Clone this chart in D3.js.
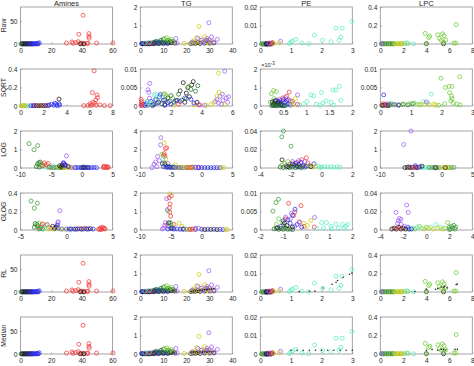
<!DOCTYPE html>
<meta charset="utf-8">
<style>
  body { margin: 0; background: #fff; }
  text { font-family: "Liberation Sans", Arial, sans-serif; fill: #262626; }
</style>
<body>
<div id="chart"></div>
<script src="https://d3js.org/d3.v7.min.js"></script>
<script>
// panel labels
const rowNames = ["Raw", "SQRT", "LOG", "GLOG", "RL", "Median"];
const colNames = ["Amines", "TG", "PE", "LPC"];

// axis ticks and limits per row (one entry per column)
const rawXTicks = [[0, 20, 40, 60], [0, 10, 20, 30, 40], [0, 1, 2, 3], [0, 2, 4, 6, 8]];
const rawYTicks = [[0, 50], [0, 1, 2], [0, 0.01, 0.02], [0, 0.2, 0.4]];
const rawYMax = [80, 2, 0.02, 0.4];
const sqrtXTicks = [[0, 2, 4, 6, 8], [0, 2, 4, 6], [0, 0.5, 1, 1.5, 2], [0, 1, 2, 3]];
const sqrtYTicks = [[0, 0.2, 0.4], [0, 0.005, 0.01], [0, 1, 2], [0, 0.005, 0.01]];
const sqrtYMax = [0.4, 0.01, 2, 0.01];
const logXTicks = [[-10, -5, 0, 5], [-10, -5, 0, 5], [-4, -2, 0, 2], [-10, -5, 0, 5]];
const logYTicks = [[0, 1, 2], [0, 2, 4], [0, 0.02, 0.04], [0, 1, 2]];
const logYMax = [2, 4, 0.04, 2];
const glogXTicks = [[-5, 0, 5], [-10, -5, 0, 5], [-2, -1, 0, 1, 2], [-4, -2, 0, 2, 4]];
const glogYTicks = [[0, 0.2, 0.4], [0, 1, 2], [0, 0.005, 0.01], [0, 0.02, 0.04]];
const glogYMax = [0.4, 2, 0.01, 0.04];

// points: [x, y, class]
const rawAmines = [[0.3,0.3,"g"],[0.8,0.3,"g"],[1.4,0.3,"g"],
  [1,0.3,"k"],[2,0.3,"k"],[2.6,0.3,"k"],[3.2,0.3,"k"],[3.8,0.3,"k"],[4.4,0.3,"k"],[5,0.3,"k"],[5.6,0.3,"k"],[6.2,0.3,"k"],[7,0.3,"k"],[7.8,0.3,"k"],
  [4.2,0.5,"b"],[6.6,0.5,"b"],[7.4,0.3,"b"],[8.4,0.3,"b"],[9,0.6,"b"],[9.6,0.3,"b"],[10.2,0.6,"b"],[10.8,0.5,"b"],[11.2,1,"b"],[11.6,0.5,"b"],[12.2,2.6,"b"],
  [40.8,62,"r"],[38,21,"r"],[44.6,22.5,"r"],[44.6,16.5,"r"],[44.8,12.5,"r"],[30,2,"r"],[33.6,4.5,"r"],[34.2,1.5,"r"],[36,3,"r"],[37.6,5,"r"],[38.6,1,"r"],[40,2,"r"],[41.6,1,"r"],[43.2,1.2,"r"],[44,1.5,"r"],[49.6,2,"r"],[60.3,2.2,"r"],
  [39.3,0.3,"k"],[41.2,0.3,"k"]];
const rawTG = [[0.5,0.02,"b"],[1,0.02,"b"],[1.5,0.02,"b"],[2,0.03,"b"],[2.5,0.02,"b"],[3,0.03,"b"],[3.5,0.02,"b"],[4,0.04,"b"],[4.5,0.03,"b"],[5,0.05,"b"],[5.5,0.03,"b"],[6,0.06,"b"],[6.5,0.04,"b"],[7,0.08,"b"],[7.5,0.05,"b"],[8,0.1,"b"],[9,0.06,"b"],[10,0.08,"b"],[11,0.05,"b"],[12,0.04,"b"],
  [1,0.01,"k"],[2,0.01,"k"],[3,0.01,"k"],[4,0.01,"k"],[5,0.02,"k"],[6,0.02,"k"],[8,0.02,"k"],[10,0.03,"k"],[12,0.05,"k"],[13,0.1,"k"],[13.5,0.07,"k"],[14,0.12,"k"],[15,0.05,"k"],[22,0.02,"k"],[23,0.05,"k"],[24,0.04,"k"],[25,0.08,"k"],[26,0.03,"k"],[28,0.05,"k"],[30,0.08,"k"],[32,0.06,"k"],[29,0.18,"k"],
  [6,0.1,"d"],[7,0.15,"d"],[8,0.05,"d"],[9,0.2,"d"],[9.5,0.12,"d"],[10,0.25,"d"],[11,0.1,"d"],[12,0.2,"d"],[13,0.15,"d"],
  [10.5,0.3,"l"],[11.5,0.33,"l"],[12.5,0.2,"l"],[13.5,0.25,"l"],[14,0.12,"l"],
  [19,0.03,"y"],[22,0.05,"y"],[23,0.15,"y"],[24.5,0.35,"y"],[25.5,0.95,"y"],[26,0.1,"y"],[27,0.25,"y"],[28,0.4,"y"],[29,0.12,"y"],[30,0.02,"y"],[31,0.15,"y"],[24,0.1,"y"],
  [15.5,0.3,"m"],[16,0.05,"m"],[22.5,0.1,"m"],[25,0.3,"m"],[26.5,0.2,"m"],[27,0.08,"m"],[28,0.15,"m"],[29,0.3,"m"],[29.8,1.15,"m"],[30,0.22,"m"],[31,0.38,"m"],[32,0.1,"m"],[33.5,0.25,"m"],[30.5,0.05,"m"],
  [3,0.05,"r"],[5,0.04,"r"],[2,0.05,"c"],[4,0.08,"c"]];
const rawPE = [[0.04,0,"d"],[0.08,0,"d"],[0.12,0,"d"],[0.16,0,"d"],[0.2,0,"d"],[0.24,0.0001,"d"],[0.28,0,"d"],
  [0.06,0.0001,"l"],[0.14,0.0002,"l"],
  [0.18,0.0001,"b"],[0.22,0,"b"],[0.26,0.0002,"b"],[0.3,0.0001,"b"],[0.34,0,"b"],[0.38,0.0002,"b"],
  [0.2,0,"k"],[0.26,0.0001,"k"],[0.32,0.0001,"k"],[0.36,0.0003,"k"],
  [0.28,0.0004,"r"],[0.4,0.0008,"r"],[0.36,0.0002,"r"],
  [0.3,0.0005,"m"],[0.66,0.0015,"m"],[0.44,0.0003,"y"],[0.62,0.0006,"y"],
  [2.99,0.0122,"c"],[2.47,0.0085,"c"],[2.67,0.0085,"c"],[2.63,0.0037,"c"],[2.57,0.002,"c"],[1.77,0.0048,"c"],[2.03,0.002,"c"],[2.3,0.0012,"c"],[1.16,0.0025,"c"],[1.0,0.001,"c"],[1.05,0.0016,"c"],[1.36,0.0005,"c"],[1.58,0.0002,"c"],[0.95,0.0002,"c"]];
const rawLPC = [[0.1,0.002,"d"],[0.25,0.002,"d"],[0.4,0.002,"d"],[0.55,0.002,"d"],[0.7,0.002,"d"],[0.85,0.002,"d"],[1.0,0.002,"d"],[1.15,0.002,"d"],
  [0.3,0.003,"l"],[0.6,0.003,"l"],[0.9,0.003,"l"],[1.2,0.003,"l"],[1.5,0.004,"l"],[1.8,0.003,"l"],[2.1,0.004,"l"],[2.4,0.006,"l"],
  [1.3,0.002,"y"],[1.45,0.002,"y"],[1.6,0.002,"y"],[1.75,0.002,"y"],[1.9,0.002,"y"],
  [2.3,0.012,"c"],[2.9,0.002,"c"],[4.0,0.003,"k"],[5.5,0.003,"k"],[0.15,0.002,"m"],
  [3.9,0.115,"l"],[4.3,0.085,"l"],[4.2,0.07,"l"],[5.0,0.1,"l"],[5.4,0.11,"l"],[5.55,0.09,"l"],[5.15,0.06,"l"],[5.3,0.04,"l"],[5.7,0.045,"l"],[5.5,0.02,"l"],[4,0.007,"l"],[6.4,0.01,"l"],[6.55,0.01,"l"],[6.6,0.21,"l"]];

const sqrtAmines = [[0.1,0.002,"l"],[0.3,0.004,"l"],[0.5,0.002,"l"],[0.05,0.001,"y"],[0.2,0.001,"y"],[0.4,0.002,"y"],[0.7,0.002,"c"],
  [1.2,0.003,"k"],[1.4,0.004,"k"],[1.6,0.003,"k"],[1.8,0.005,"k"],[2.0,0.004,"k"],[2.2,0.004,"k"],[2.4,0.006,"k"],[3.35,0.075,"k"],
  [1.3,0.006,"r"],[1.9,0.005,"r"],
  [0.9,0.003,"b"],[1.1,0.004,"b"],[2.5,0.01,"b"],[2.7,0.02,"b"],[2.9,0.008,"b"],[3.0,0.03,"b"],[3.1,0.015,"b"],[3.2,0.005,"b"],[3.35,0.025,"b"],[3.4,0.01,"b"],[2.3,0.01,"m"],
  [6.4,0.38,"r"],[6.25,0.145,"r"],[6.65,0.12,"r"],[6.7,0.09,"r"],[6.55,0.065,"r"],[6.45,0.03,"r"],[6.05,0.025,"r"],[6.25,0.012,"r"],[5.5,0.004,"r"],[5.85,0.005,"r"],[6.6,0.008,"r"],[6.9,0.012,"r"],[7.3,0.004,"r"],[7.8,0.003,"r"],[6.3,0.04,"r"],[6.1,0.006,"r"]];
const sqrtTG = [[0.62,0.0061,"m"],[0.5,0.0044,"m"],[0.56,0.0037,"m"],[0.6,0.0021,"m"],[0.45,0.0012,"m"],[5.5,0.0094,"m"],[5.35,0.0032,"m"],[5.2,0.0026,"m"],[5.0,0.0018,"m"],[5.6,0.0022,"m"],[4.9,0.0012,"m"],[5.4,0.0015,"m"],[5.7,0.001,"m"],[5.1,0.0008,"m"],[3.9,0.0003,"m"],[4.2,0.0002,"m"],[5.75,0.0025,"m"],[5.3,0.0005,"m"],[0.1,0.0002,"m"],
  [5.1,0.0089,"y"],[5.15,0.0037,"y"],[4.8,0.001,"y"],[4.6,0.0004,"y"],[4.3,0.0002,"y"],[5.0,0.0027,"y"],[5.5,0.0004,"y"],[2.2,0.0002,"y"],[3.5,0.0003,"y"],
  [2.8,0.0063,"k"],[3.45,0.0066,"k"],[3.35,0.0057,"k"],[3.1,0.005,"k"],[2.6,0.0041,"k"],[3.0,0.0035,"k"],[3.2,0.0025,"k"],[2.4,0.0015,"k"],[1.8,0.0022,"k"],[1.2,0.001,"k"],[0.9,0.0005,"k"],[3.7,0.001,"k"],[1.6,0.0004,"k"],[2.9,0.001,"k"],
  [3.75,0.0055,"d"],[3.6,0.004,"d"],[3.3,0.0045,"d"],[2.5,0.0032,"d"],[2.0,0.0028,"d"],[1.6,0.0017,"d"],[1.9,0.0012,"d"],[2.2,0.001,"d"],[1.4,0.0006,"d"],[0.8,0.0004,"d"],[0.5,0.0002,"d"],[3.0,0.002,"d"],[2.7,0.0016,"d"],
  [1.6,0.0033,"l"],[1.7,0.0028,"l"],[1.5,0.0032,"l"],[2.1,0.0022,"l"],[3.15,0.0053,"l"],[1.0,0.0015,"l"],
  [1.3,0.0031,"b"],[1.25,0.0025,"b"],[1.0,0.0018,"b"],[0.7,0.0012,"b"],[0.4,0.0006,"b"],[1.5,0.0016,"b"],[1.8,0.0009,"b"],[2.3,0.0015,"b"],[2.6,0.0012,"b"],[2.9,0.0022,"b"],[3.3,0.0018,"b"],[3.5,0.0008,"b"],[0.2,0.0004,"b"],[1.1,0.0008,"b"],[2.0,0.0005,"b"],[0.3,0.0001,"b"],[0.8,0.0001,"b"],[1.6,0.0002,"b"],
  [1.0,0.0032,"c"],[0.9,0.003,"c"],[0.3,0.0009,"c"],[0.5,0.0013,"c"],[1.2,0.0022,"c"],[0.7,0.0007,"c"],
  [0.05,0.0018,"r"],[0.08,0.0012,"r"],[0.06,0.0006,"r"],[0.1,0.0003,"r"],[0.04,0.0001,"r"],[2.5,0.0005,"r"],[3.8,0.0003,"r"]];
// PE SQRT values are in units of 1e-3
const sqrtPE = [[1.72,1.06,"c"],[1.58,0.87,"c"],[1.64,0.86,"c"],[1.33,0.73,"c"],[1.16,0.55,"c"],[1.1,0.6,"c"],[1.43,0.28,"c"],[1.54,0.2,"c"],[1.36,0.16,"c"],[1.01,0.25,"c"],[1.22,0.1,"c"],[0.94,0.12,"c"],[1.6,0.05,"c"],[1.3,0.03,"c"],[1.75,0.3,"c"],[0.85,0.05,"c"],
  [0.29,0.84,"l"],[0.35,0.78,"l"],[0.24,0.67,"l"],[0.3,0.4,"l"],[0.22,0.2,"l"],
  [0.63,0.75,"r"],[0.57,0.53,"r"],[0.49,0.44,"r"],[0.62,0.34,"r"],[0.81,0.09,"r"],[0.4,0.15,"r"],[0.7,0.25,"r"],[0.45,0.3,"r"],
  [0.81,0.6,"m"],[0.55,0.45,"m"],[0.5,0.2,"m"],[0.66,0.28,"m"],[0.42,0.36,"m"],[0.72,0.12,"m"],
  [0.35,0.3,"b"],[0.4,0.25,"b"],[0.45,0.12,"b"],[0.5,0.35,"b"],[0.55,0.2,"b"],[0.6,0.1,"b"],[0.65,0.05,"b"],[0.48,0.05,"b"],[0.38,0.08,"b"],[0.52,0.02,"b"],[0.58,0.3,"b"],[0.42,0.18,"b"],
  [0.26,0.22,"k"],[0.3,0.15,"k"],[0.34,0.05,"k"],[0.38,0.18,"k"],[0.28,0.05,"k"],[0.44,0.08,"k"],[0.32,0.28,"k"],
  [0.25,0.02,"d"],[0.3,0.02,"d"],[0.35,0.01,"d"],[0.4,0.03,"d"],[0.45,0.02,"d"],[0.5,0.01,"d"],[0.55,0.03,"d"],[0.28,0.1,"d"],[0.36,0.12,"d"],
  [0.76,0.4,"y"],[0.68,0.18,"y"],[0.7,0.05,"y"]];
const sqrtLPC = [[1.98,0.0075,"l"],[2.59,0.0079,"l"],[2.12,0.005,"l"],[2.24,0.0053,"l"],[2.34,0.0053,"l"],[2.26,0.0036,"l"],[2.32,0.0027,"l"],[2.34,0.002,"l"],[2.3,0.0014,"l"],[2.38,0.0008,"l"],[2.1,0.0006,"l"],[2.5,0.0005,"l"],[2.6,0.0003,"l"],
  [0.11,0.003,"b"],[0.3,0.0005,"b"],[0.6,0.0003,"b"],
  [1.66,0.0032,"c"],[1.4,0.0012,"c"],[1.55,0.0008,"c"],[1.2,0.0005,"c"],[0.35,0.0008,"c"],
  [0.05,0.0002,"k"],[0.1,0.0001,"k"],[0.15,0.0004,"k"],[0.2,0.0002,"k"],[0.25,0.0001,"k"],[0.08,0.0006,"r"],[0.18,0.0003,"r"],
  [0.3,0.0002,"d"],[0.45,0.0004,"d"],[0.6,0.0002,"d"],[0.75,0.0005,"d"],[0.9,0.0003,"d"],[1.05,0.0006,"d"],
  [0.4,0.0003,"l"],[0.7,0.0004,"l"],[0.95,0.0006,"l"],[1.1,0.0008,"l"],[1.3,0.0003,"l"],[1.9,0.0002,"l"],
  [1.25,0.0004,"y"],[1.45,0.0006,"y"],[1.6,0.0003,"y"],[1.75,0.0005,"y"],[1.8,0.0002,"y"],
  [0.22,0.0006,"m"],[0.5,0.0003,"m"],[1.5,0.0011,"m"]];

const logAmines = [[-8.6,1.32,"g"],[-7.8,0.99,"g"],[-7.2,1.21,"g"],
  [-7,0.28,"d"],[-7.2,0.22,"d"],[-6.8,0.32,"d"],[-6.6,0.15,"d"],[-7.4,0.08,"d"],[-6.9,0.05,"d"],
  [-6.5,0.22,"l"],[-6.2,0.12,"l"],[-7.1,0.15,"l"],
  [-6.3,0.1,"c"],[-5.8,0.05,"c"],[-5.2,0.08,"c"],[-4.8,0.12,"c"],[-4.5,0.05,"c"],[-5.5,0.02,"c"],
  [-6.1,0.28,"r"],[-5.8,0.18,"r"],[-5.5,0.25,"r"],[-6.4,0.12,"r"],[-5.3,0.05,"r"],
  [-5,0.02,"g"],[-4.6,0.02,"g"],[-4.2,0.03,"g"],[-3.8,0.02,"g"],[-3.4,0.02,"g"],[-3,0.02,"g"],
  [-3.8,0.05,"y"],[-3.3,0.04,"y"],[-2.8,0.03,"y"],[-2.4,0.02,"y"],[-2,0.03,"y"],[-1.6,0.02,"y"],
  [-2.5,0.66,"m"],[-3,0.3,"m"],[-2.9,0.22,"m"],[-2.6,0.1,"m"],[-1.8,0.03,"m"],[-1.2,0.02,"m"],
  [-3.6,0.12,"k"],[-3.2,0.15,"k"],[-2.8,0.16,"k"],[-2.2,0.08,"k"],[-3.4,0.05,"k"],[0,0.02,"k"],[0.5,0.02,"k"],[1,0.02,"k"],[0.3,0.05,"k"],
  [-3,0.25,"b"],[-2.7,0.18,"b"],[-1,0.02,"b"],[-0.6,0.03,"b"],[-0.2,0.02,"b"],[0.2,0.02,"b"],[0.8,0.03,"b"],[1.2,0.02,"b"],[1.6,0.02,"b"],[2,0.03,"b"],[2.4,0.02,"b"],
  [3.5,0.02,"r"],[3.7,0.06,"r"],[3.9,0.03,"r"],[4.1,0.08,"r"],[4.2,0.02,"r"],[4.3,0.04,"r"],[3.6,0.1,"r"]];
const logTG = [[-6.65,3.28,"m"],[-6.7,2.5,"m"],[-7.2,1.25,"m"],[-7.5,0.66,"m"],[-7.75,0.4,"m"],[-8.1,0.03,"m"],[-5.5,0.5,"m"],[-6.9,0.8,"m"],[-7.3,0.15,"m"],
  [-6.1,2.72,"y"],[-5.85,0.97,"y"],[-4.3,0.35,"y"],[-4.8,0.15,"y"],
  [-5.7,2.19,"r"],[-5.9,2.1,"r"],[-6.1,1.56,"r"],[-6.2,1.4,"r"],[-6.0,1.28,"r"],
  [-6.4,0.47,"k"],[-6.0,0.47,"k"],[-5.6,0.12,"k"],[-5.2,0.1,"k"],[-2.5,0.05,"k"],[-1.5,0.08,"k"],[-0.5,0.05,"k"],
  [-6.5,1.47,"l"],[-6.3,1.0,"c"],
  [-5.9,0.3,"g"],[-5.3,0.15,"g"],[-4.5,0.1,"g"],[-3.5,0.05,"g"],
  [-6.2,0.15,"b"],[-5.8,0.08,"b"],[-5.4,0.1,"b"],[-5,0.05,"b"],[-4.6,0.06,"b"],[-4.2,0.04,"b"],[-3.8,0.05,"b"],[-3.4,0.04,"b"],[-3,0.03,"b"],[-1,0.05,"b"],[-0.5,0.03,"b"],[0,0.04,"b"],[0.5,0.03,"b"],[1,0.04,"b"],[1.5,0.03,"b"],[2,0.04,"b"],[2.5,0.03,"b"],[3,0.03,"b"],
  [-4,0.05,"y"],[-3.5,0.08,"y"],[-3,0.06,"y"],[-2.5,0.04,"y"],[-2,0.06,"y"],[-1.5,0.04,"y"],[3.2,0.05,"y"],[3.6,0.04,"y"],
  [-2.2,0.05,"r"],[-1.8,0.04,"r"],[-1,0.1,"m"],[-0.5,0.08,"m"]];
const logPE = [[-2.49,0.04,"g"],[-2.6,0.0337,"g"],[-2.0,0.0236,"g"],[-2.58,0.0088,"k"],
  [-1.0,0.011,"r"],[-1.3,0.009,"r"],[-1.6,0.006,"r"],[-0.9,0.0055,"r"],[-1.2,0.003,"r"],[-2.1,0.004,"r"],
  [-1.5,0.008,"m"],[-1.9,0.007,"m"],[-1.1,0.007,"m"],[-0.8,0.002,"m"],[-2.3,0.003,"m"],
  [-1.7,0.005,"b"],[-1.5,0.004,"b"],[-1.35,0.006,"b"],[-1.2,0.002,"b"],[-1.8,0.003,"b"],[-0.5,0.0045,"b"],[-2,0.002,"b"],[-1.4,0.001,"b"],[-1.0,0.002,"b"],
  [-2.2,0.007,"l"],[-2.4,0.005,"l"],[-2.0,0.002,"l"],[-2.6,0.003,"l"],
  [-2.7,0.001,"d"],[-2.5,0.0005,"d"],[-2.3,0.001,"d"],[-2.1,0.0005,"d"],[-1.9,0.001,"d"],[-1.7,0.0005,"d"],[-1.5,0.001,"d"],[-1.3,0.0005,"d"],[-1.1,0.001,"d"],
  [-0.8,0.003,"y"],[-0.6,0.001,"y"],[-0.4,0.002,"y"],
  [-1.9,0.0045,"k"],[-1.6,0.002,"k"],[-2.2,0.0015,"k"],[-0.7,0.0015,"k"],
  [-0.2,0.002,"c"],[0,0.001,"c"],[0.2,0.0015,"c"],[0.4,0.001,"c"],[0.6,0.0015,"c"],[0.8,0.0008,"c"],[1,0.0012,"c"],[1.2,0.0008,"c"],[-0.1,0.0005,"c"]];
const logLPC = [[-5.0,2.0,"m"],[-6.2,1.27,"m"],[-4.3,0.12,"b"],[-5.3,0.08,"m"],
  [-6,0.02,"k"],[-5.6,0.03,"k"],[-5.2,0.02,"k"],[-4.8,0.03,"k"],[-4,0.02,"k"],
  [-4.6,0.04,"r"],[-4.4,0.02,"r"],[-3.8,0.03,"r"],
  [-3.4,0.03,"c"],[-3,0.02,"c"],[-2.6,0.03,"c"],[-2.2,0.02,"c"],
  [-2,0.03,"g"],[-1.6,0.02,"g"],[-1.2,0.03,"g"],[-0.8,0.02,"g"],[-0.4,0.02,"g"],[1.2,0.03,"g"],[1.6,0.02,"g"],[2,0.03,"g"],
  [0,0.02,"y"],[0.4,0.03,"y"],[0.8,0.02,"y"],[1,0.04,"y"],
  [-3.6,0.06,"b"],[-4.2,0.05,"b"],[-1,0.02,"k"],[0.6,0.02,"k"],[-3.2,0.1,"k"]];

const glogAmines = [[-3.86,0.313,"g"],[-3.17,0.29,"g"],[-3.5,0.236,"g"],
  [-0.73,0.209,"m"],[-0.9,0.09,"m"],[-0.95,0.075,"m"],[-1.2,0.03,"m"],
  [-3.4,0.07,"d"],[-3.2,0.06,"d"],[-3.1,0.04,"d"],[-3.5,0.03,"d"],[-2.9,0.02,"d"],
  [-3,0.075,"l"],[-2.7,0.05,"l"],[-3.3,0.05,"l"],
  [-2.5,0.04,"c"],[-2.2,0.05,"c"],[-1.9,0.03,"c"],[-2.4,0.02,"c"],
  [-2.6,0.066,"r"],[-2.1,0.06,"r"],[-2.8,0.03,"r"],[-1.7,0.02,"r"],[3.5,0.01,"r"],[3.7,0.02,"r"],[3.8,0.005,"r"],[3.9,0.03,"r"],[4.0,0.015,"r"],[4.1,0.02,"r"],[4.2,0.01,"r"],[3.6,0.005,"r"],[2,0.02,"r"],[1.4,0.015,"r"],
  [-1.5,0.04,"k"],[-1.1,0.03,"k"],[-1.3,0.015,"k"],[0.5,0.01,"k"],[1,0.01,"k"],[1.6,0.01,"k"],[2.2,0.01,"k"],[2.6,0.015,"k"],
  [-1.0,0.05,"b"],[-0.9,0.02,"b"],[-0.5,0.01,"b"],[0,0.01,"b"],[0.3,0.01,"b"],[0.8,0.01,"b"],[1.2,0.01,"b"],[1.8,0.01,"b"],[2.4,0.01,"b"],[2.9,0.01,"b"],
  [-2,0.01,"y"],[-1.5,0.01,"y"],[-0.8,0.01,"y"],[-0.2,0.01,"y"],[-3,0.01,"g"],[-2.6,0.01,"g"]];
const glogTG = [[-5.2,1.95,"y"],[-3.65,0.36,"y"],[-3.2,0.2,"y"],[-4.8,0.25,"y"],
  [-4.95,1.85,"r"],[-5.3,1.74,"r"],[-5.15,1.41,"r"],[-5.25,1.19,"r"],[-5.2,0.97,"r"],[-5.05,0.75,"r"],[-4.5,0.3,"r"],[-5.6,0.3,"r"],
  [-5.7,1.69,"m"],[-5.6,1.1,"m"],[-6.2,0.11,"m"],[-6.4,0.05,"m"],[-5.9,0.4,"m"],[-5.4,0.2,"m"],[-6.0,0.25,"m"],
  [-5.5,1.02,"l"],[-5.0,0.35,"c"],[-5.35,0.39,"k"],[-4.8,0.08,"k"],[-3,0.05,"k"],[-5.1,0.4,"g"],[-4.9,0.15,"g"],
  [-5.5,0.05,"b"],[-5,0.08,"b"],[-4.5,0.05,"b"],[-4,0.06,"b"],[-3.5,0.04,"b"],[-3,0.05,"b"],[-2.5,0.03,"b"],[-2,0.04,"b"],[-1,0.03,"b"],[0,0.04,"b"],[1,0.03,"b"],[2,0.04,"b"],[3,0.03,"b"],[3.5,0.02,"b"],
  [-2.5,0.05,"y"],[-2,0.02,"y"],[-1.5,0.04,"y"],[-1,0.1,"m"],[-0.5,0.1,"m"],[4,0.03,"y"],[4.2,0.02,"y"],
  [-1.5,0.05,"r"],[-1.8,0.03,"r"],[0.5,0.02,"k"],[1.5,0.03,"k"],[2.5,0.02,"k"]];
const glogPE = [[-1.21,0.0083,"g"],[-1.32,0.0074,"g"],[-1.45,0.0051,"g"],
  [-0.77,0.0072,"r"],[-0.23,0.0066,"r"],[-0.5,0.0049,"r"],[-0.55,0.0039,"r"],[-0.9,0.003,"r"],[-0.3,0.0022,"r"],[-0.1,0.001,"r"],[0.35,0.0008,"r"],
  [-0.49,0.0056,"b"],[-0.6,0.004,"b"],[-0.8,0.0028,"b"],[-1.0,0.0025,"b"],[-0.7,0.0018,"b"],[-1.1,0.001,"b"],[-0.4,0.0015,"b"],[-0.2,0.0008,"b"],
  [0.36,0.0034,"m"],[-0.65,0.0045,"m"],[-0.9,0.0035,"m"],[-0.7,0.003,"m"],[-1.0,0.0014,"m"],[-0.3,0.002,"m"],[-0.5,0.001,"m"],
  [0.2,0.0026,"y"],[-0.1,0.0018,"y"],[0.05,0.0012,"y"],
  [-1.2,0.003,"l"],[-1.05,0.0022,"l"],[-1.3,0.0015,"l"],[-0.95,0.001,"l"],
  [-1.4,0.0003,"d"],[-1.3,0.0005,"d"],[-1.2,0.0002,"d"],[-1.1,0.0004,"d"],[-1.0,0.0002,"d"],[-0.9,0.0005,"d"],[-0.8,0.0002,"d"],[-0.7,0.0003,"d"],[-0.6,0.0001,"d"],
  [-1.25,0.0006,"k"],[-0.85,0.0012,"k"],[-0.95,0.0019,"k"],[-0.6,0.0008,"k"],
  [0.67,0.002,"c"],[0.88,0.002,"c"],[1.29,0.0016,"c"],[1.57,0.0015,"c"],[1.71,0.001,"c"],[1.8,0.0015,"c"],[1.07,0.001,"c"],[0.45,0.0004,"c"],[0.75,0.0006,"c"],[1.4,0.0005,"c"],[1.1,0.0003,"c"],[1.65,0.0004,"c"]];
const glogLPC = [[-1.71,0.027,"m"],[-2.63,0.019,"m"],[-1.57,0.019,"m"],[-2.34,0.0125,"m"],[-2.2,0.0114,"m"],[-2.43,0.01,"m"],[-2.5,0.007,"m"],[-2.2,0.006,"m"],[-1.9,0.004,"m"],
  [-3.0,0.001,"k"],[-2.8,0.002,"k"],[-2.6,0.001,"k"],[-2.4,0.003,"k"],[-2.2,0.001,"k"],[-2.0,0.002,"k"],[-1.8,0.001,"k"],[-1.5,0.001,"k"],
  [-2.7,0.0015,"r"],[-2.3,0.002,"r"],
  [-1.2,0.002,"c"],[-0.8,0.003,"c"],[-0.4,0.002,"c"],[0.83,0.006,"c"],[0.4,0.003,"c"],[1.2,0.003,"c"],
  [-0.2,0.001,"y"],[0.2,0.002,"y"],[0.6,0.001,"y"],[1.0,0.002,"y"],[1.4,0.001,"y"],
  [1.86,0.008,"l"],[2.0,0.003,"g"],[2.1,0.001,"g"],[2.2,0.004,"g"],[2.3,0.002,"g"],[2.4,0.005,"g"],[2.5,0.001,"g"],[2.55,0.003,"g"],[2.0,0.0005,"g"],
  [-1.0,0.001,"l"],[-0.6,0.004,"l"],[0.0,0.003,"l"],[1.6,0.002,"l"],[-1.6,0.003,"b"],[-1.3,0.001,"b"]];

// small dot markers (RL and Median rows)
const rlDotsTG = [[14,0.05],[15,0.06],[22,0.02],[23,0.05],[24,0.07],[25,0.08],[26,0.09],[27,0.11],[28,0.12],[29,0.14],[30,0.15],[31,0.17],[32,0.18]];
const rlDotsPE = [[1.27,0.0002],[1.6,0.0004],[1.78,0.0005],[2.04,0.0022],[2.34,0.0042],[2.47,0.0053],[2.52,0.0062],[2.7,0.008],[2.91,0.0096],[2.99,0.0102]];
const rlDotsLPC = [[3.0,0.005],[4.0,0.032],[4.8,0.03],[5.0,0.036],[5.3,0.054],[5.5,0.05],[5.6,0.06],[5.8,0.045],[6.6,0.08],[6.7,0.086]];
const medianDotsTG = [[14,0.05],[15,0.05],[22,0.1],[23,0.1],[24,0.11],[25,0.1],[26,0.11],[27,0.1],[28,0.12],[29,0.11],[30,0.12],[31,0.11],[32,0.12]];
const medianDotsPE = [[1.0,0.002],[1.2,0.002],[1.4,0.002],[1.6,0.002],[1.8,0.002],[2.0,0.002],[2.2,0.002],[2.4,0.002],[2.6,0.002],[2.8,0.002],[3.0,0.002]];
const medianDotsLPC = [[4.0,0.04],[4.5,0.05],[5.0,0.04],[5.3,0.05],[5.5,0.05],[5.7,0.045],[6.5,0.05],[6.7,0.05]];

const classColor = {r: "#f23a3a", b: "#2a2af0", g: "#3d9b3d", d: "#1d6a28", k: "#1a1a1a",
  c: "#5cecc4", m: "#9d5cf2", y: "#cccc14", l: "#72c83a"};

const rows = [
  {x: rawXTicks, y: rawYTicks, ymax: rawYMax, pts: [rawAmines, rawTG, rawPE, rawLPC], dots: [[], [], [], []]},
  {x: sqrtXTicks, y: sqrtYTicks, ymax: sqrtYMax, pts: [sqrtAmines, sqrtTG, sqrtPE, sqrtLPC], dots: [[], [], [], []]},
  {x: logXTicks, y: logYTicks, ymax: logYMax, pts: [logAmines, logTG, logPE, logLPC], dots: [[], [], [], []]},
  {x: glogXTicks, y: glogYTicks, ymax: glogYMax, pts: [glogAmines, glogTG, glogPE, glogLPC], dots: [[], [], [], []]},
  {x: rawXTicks, y: rawYTicks, ymax: rawYMax, pts: [rawAmines, rawTG, rawPE, rawLPC], dots: [[], rlDotsTG, rlDotsPE, rlDotsLPC]},
  {x: rawXTicks, y: rawYTicks, ymax: rawYMax, pts: [rawAmines, rawTG, rawPE, rawLPC], dots: [[], medianDotsTG, medianDotsPE, medianDotsLPC]}
];

const width = 474, height = 366;
const colLeft = [20.5, 140.3, 260.3, 380.3];
const panelW = 92, panelH = 37, rowStep = 62, firstTop = 7;

const svg = d3.select("#chart").append("svg")
  .attr("width", width).attr("height", height);

rows.forEach((row, ri) => {
  const top = firstTop + ri * rowStep;

  // rotated row label, kept left of the tick labels
  svg.append("text")
    .attr("transform", `translate(5.5, ${top + panelH / 2}) rotate(-90)`)
    .attr("text-anchor", "middle")
    .style("font-size", "6.8px")
    .text(rowNames[ri]);

  colNames.forEach((cn, ci) => {
    const left = colLeft[ci];
    const xt = row.x[ci];
    const x = d3.scaleLinear().domain([xt[0], xt[xt.length - 1]]).range([left, left + panelW]);
    const y = d3.scaleLinear().domain([0, row.ymax[ci]]).range([top + panelH, top]);
    const g = svg.append("g");

    g.append("rect")
      .attr("x", left).attr("y", top).attr("width", panelW).attr("height", panelH)
      .attr("fill", "none").attr("stroke", "#8f8f8f").attr("stroke-width", 0.8);

    const fmt = d => String(d);
    const xa = g.append("g").attr("transform", `translate(0, ${top + panelH})`)
      .call(d3.axisBottom(x).tickValues(xt).tickFormat(fmt).tickSizeInner(-1.8).tickSizeOuter(0).tickPadding(4));
    const ya = g.append("g").attr("transform", `translate(${left}, 0)`)
      .call(d3.axisLeft(y).tickValues(row.y[ci]).tickFormat(fmt).tickSizeInner(-1.8).tickSizeOuter(0).tickPadding(3));
    [xa, ya].forEach(a => {
      a.select(".domain").remove();
      a.selectAll("line").attr("stroke", "#8f8f8f").attr("stroke-width", 0.6);
      a.selectAll("text").style("font-size", "6.6px").style("font-family", "Liberation Sans, Arial, sans-serif").attr("fill", "#262626");
    });

    if (ri === 0) {
      svg.append("text")
        .attr("x", left + panelW / 2).attr("y", 6.2)
        .attr("text-anchor", "middle")
        .style("font-size", "7.5px")
        .text(cn);
    }

    g.selectAll("circle.pt")
      .data(row.pts[ci])
      .join("circle")
      .attr("class", "pt")
      .attr("cx", d => x(d[0]))
      .attr("cy", d => y(d[1]))
      .attr("r", 2)
      .attr("fill", "none")
      .attr("stroke", d => classColor[d[2]])
      .attr("stroke-width", 0.75);

    g.selectAll("circle.dot")
      .data(row.dots[ci])
      .join("circle")
      .attr("class", "dot")
      .attr("cx", d => x(d[0]))
      .attr("cy", d => y(d[1]))
      .attr("r", 0.8)
      .attr("fill", "#222");
  });
});

// exponent label for PE SQRT axis
const expLabel = svg.append("text")
  .attr("x", colLeft[2] + 1).attr("y", firstTop + rowStep - 2)
  .style("font-size", "5.5px");
expLabel.append("tspan").text("\u00d710");
expLabel.append("tspan").attr("dy", -2.5).style("font-size", "4.5px").text("-3");
</script>
</body>
